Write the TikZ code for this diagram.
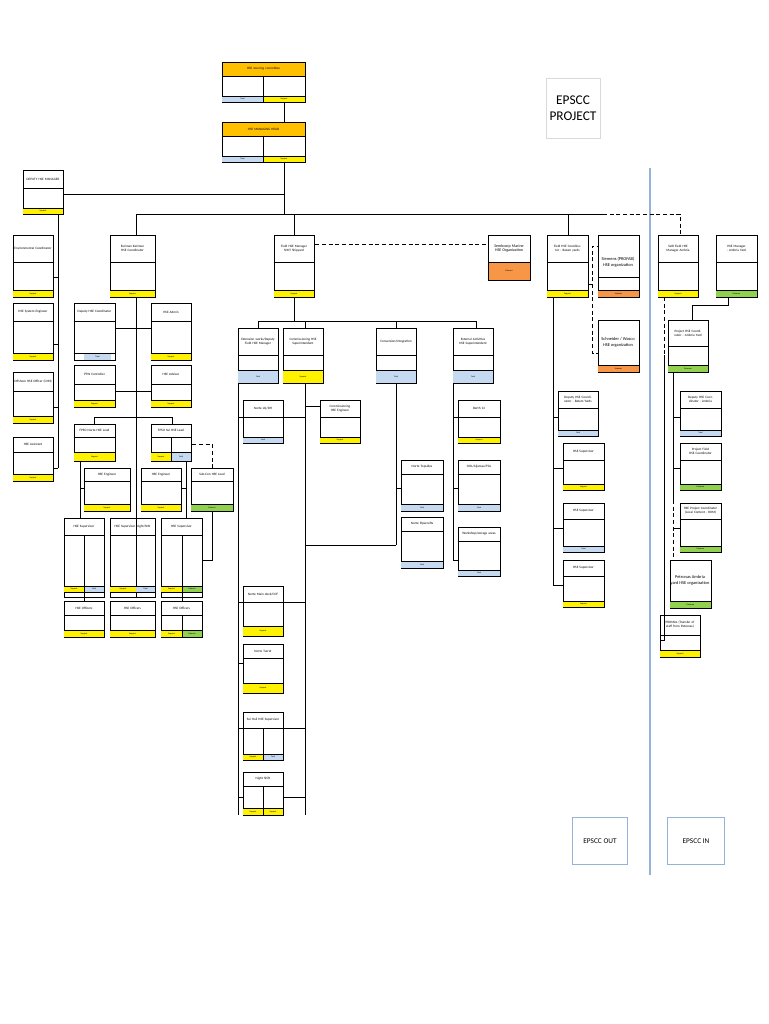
\documentclass[tikz,border=0pt]{standalone}
\usepackage{fontspec}
\setmainfont{Carlito}
\definecolor{hy}{RGB}{255,242,0}
\definecolor{hb}{RGB}{197,217,241}
\definecolor{hg}{RGB}{146,208,80}
\definecolor{ho}{RGB}{247,150,70}
\definecolor{hh}{RGB}{255,192,0}
\definecolor{lb}{RGB}{149,179,215}
\tikzset{x=0.75pt,y=-0.75pt,
 box/.style={draw,line width=0.9pt,inner sep=0pt},
 ttl/.style={font=\fontsize{2.5}{3}\selectfont,align=center,text width=#1,inner sep=0pt},
 ttl/.default=28pt,
 ftx/.style={font=\fontsize{1.6}{2}\selectfont,inner sep=0pt},
 big/.style={font=\fontsize{3.3}{4.6}\selectfont,align=center,inner sep=0pt},
 ln/.style={line width=0.7pt},
 dl/.style={line width=0.7pt,densely dashed}}
\newcommand\ob[7]{%
 \pgfmathsetmacro\bw{(#4-#2)*0.75}\pgfmathsetmacro\bh{(#5-#3)*0.75}%
 \node[box,minimum width=\bw pt,minimum height=\bh pt,anchor=north west] (#1) at (#2,#3) {};
 \draw[ln] (#2,#6) -- (#4,#6);
 \pgfmathsetmacro\tw{(#4-#2)*0.75-2}%
 \node[ttl=\tw pt] (#1t) at ({(#2+#4)/2},{(#3+#6)/2}) {#7};}
\newcommand\ft[6]{\fill[#5] (#1,#3) rectangle (#2,#4);
 \draw[ln] (#1,#3) -- (#2,#3);
 \node[ftx] at ({(#1+#2)/2},{(#3+#4)/2}) {#6};}
\newcommand\vd[3]{\draw[ln] (#1,#2) -- (#1,#3);}
\begin{document}
\begin{tikzpicture}
\useasboundingbox (0,0) rectangle (768,1024);
\fill[white] (0,0) rectangle (768,1024);
\node[draw=black!15,minimum width=40.5pt,minimum height=45pt,font=\fontsize{10}{12}\selectfont,align=center,inner sep=0] (proj) at (573,108) {EPSCC\\PROJECT};
\node[draw=lb,line width=0.5pt,minimum width=41pt,minimum height=35pt,font=\fontsize{5.5}{6}\selectfont,inner sep=0] (out) at (600,841) {EPSCC OUT};
\node[draw=lb,line width=0.5pt,minimum width=43pt,minimum height=35pt,font=\fontsize{5.5}{6}\selectfont,inner sep=0] (in) at (696,841) {EPSCC IN};
\coordinate (bl1) at (650,168); \coordinate (bl2) at (650,875);
\draw[lb,line width=0.8pt] (bl1) -- (bl2);
\fill[hh] (222,62) rectangle (305,76); \fill[hh] (222,122) rectangle (305,136);
\ob{steer}{222}{62}{305}{102}{76}{HSE steering committee}
\ft{222}{263}{96}{102}{hb}{Total}\ft{263}{305}{96}{102}{hy}{Support}\vd{263}{76}{102}
\ob{head}{222}{122}{305}{162}{136}{HSE MANAGING HEAD}
\ft{222}{263}{156}{162}{hb}{Total}\ft{263}{305}{156}{162}{hy}{Support}\vd{263}{136}{162}
\coordinate (hj) at (284,194); \coordinate (bus) at (284,214);
\draw[ln] (steer.south -| 284,0) -- (head.north -| 284,0);
\draw[ln] (head.south -| 284,0) -- (bus);
\ob{dep}{23}{170}{63}{214}{188}{DEPUTY HSE MANAGER}\ft{23}{63}{208}{214}{hy}{Support}
\draw[ln] (dep.east |- hj) -- (hj);
\draw[ln] (136,214) -- (603,214); \draw[dl] (603,214) -- (680,214) -- (680,235);
\draw[ln] (58,214) -- (58,468);
\ob{env}{13}{235}{53}{297}{262}{Environmental Coordinator}\ft{13}{53}{290}{297}{hy}{Support}
\ob{sys}{13}{303}{53}{360}{321}{HSE System Engineer}\ft{13}{53}{353}{360}{hy}{Support}
\ob{oim}{13}{372}{53}{423}{391}{Offshore HSE Officer (OIM)}\ft{13}{53}{416}{423}{hy}{Support}
\ob{asst}{13}{437}{53}{481}{452}{HSE Assistant}\ft{13}{53}{474}{481}{hy}{Support}
\draw[ln] (53,277)--(58,277) (53,344)--(58,344) (53,407)--(58,407) (53,468)--(58,468);
\draw[ln] (136,214) -- (136,235);
\ob{eur}{110}{235}{155}{297}{262}{Eurimax Karimun HSE Coordinator}\ft{110}{155}{290}{297}{hy}{Support}
\draw[ln] (136,297) -- (136,597);
\ob{dhc}{74}{303}{115}{360}{321}{Deputy HSE Coordinator}\ft{84}{111}{353}{360}{hb}{Total}
\draw[ln] (74,353)--(115,353);
\ob{adm}{151}{303}{191}{360}{321}{HSE Admin}\ft{151}{191}{353}{360}{hy}{Support}
\draw[ln] (115,328)--(151,328);
\ob{ptw}{74}{365}{115}{407}{384}{PTW Controller}\ft{74}{115}{400}{407}{hy}{Support}
\ob{adv}{151}{365}{191}{407}{384}{HSE Advisor}\ft{151}{191}{400}{407}{hy}{Support}
\draw[ln] (115,391)--(151,391);
\draw[ln] (94,424)--(94,417)--(172,417)--(172,424);
\ob{fn}{74}{424}{115}{461}{437}{FPSO Norte HSE Lead}\ft{74}{115}{452}{461}{hy}{Support}
\ob{fs}{151}{424}{191}{461}{437}{FPSO Sul HSE Lead}\ft{151}{171}{452}{461}{hy}{Support}\ft{171}{191}{452}{461}{hb}{Total}\vd{171}{437}{461}
\draw[dl] (fs.east |- 0,444) -- (212,444) -- (212,468);
\ob{he1}{84}{468}{130}{511}{481}{HSE Engineer}\ft{84}{130}{504}{511}{hy}{Support}
\ob{he2}{141}{468}{181}{511}{481}{HSE Engineer}\ft{141}{181}{504}{511}{hy}{Support}
\ob{sub}{191}{468}{233}{511}{481}{Sub-Con HSE Lead}\ft{191}{233}{504}{511}{hg}{Subcont}
\draw[ln] (80,461)--(80,518) (80,488)--(84,488);
\draw[ln] (186,461)--(186,518) (181,488)--(186,488);
\draw[ln] (212,511)--(212,560)--(202,560);
\ob{s1}{64}{518}{104}{597}{535}{HSE Supervisor}\ft{64}{84}{586}{592}{hy}{Support}\ft{84}{104}{586}{592}{hb}{Total}\vd{84}{535}{601}\draw[ln](64,592)--(104,592);
\ob{s2}{110}{518}{155}{597}{535}{HSE Supervisor Night/SMI}\ft{110}{136}{586}{592}{hy}{Support}\ft{136}{155}{586}{592}{hb}{Total}\draw[ln](110,592)--(155,592);
\ob{s3}{161}{518}{202}{597}{535}{HSE Supervisor}\ft{161}{182}{586}{592}{hy}{Support}\ft{182}{202}{586}{592}{hg}{Subcont}\vd{182}{535}{601}\draw[ln](161,592)--(202,592);
\ob{o1}{64}{601}{104}{637}{615}{HSE Officers}\ft{64}{104}{630}{637}{hy}{Support}
\ob{o2}{110}{601}{155}{637}{615}{HSE Officers}\ft{110}{155}{630}{637}{hy}{Support}
\ob{o3}{161}{601}{202}{637}{615}{HSE Officers}\ft{161}{182}{630}{637}{hy}{Support}\ft{182}{202}{630}{637}{hg}{Subcont}\vd{182}{615}{637}
\draw[ln] (294,214) -- (294,235);
\ob{fhm}{274}{235}{314}{297}{262}{Field HSE Manager\\SMIT Shipyard}\ft{274}{314}{290}{297}{hy}{Support}
\fill[ho] (488,262) rectangle (530,280);
\ob{semb}{488}{235}{530}{280}{262}{\fontsize{3}{4}\selectfont Sembcorp Marine HSE Organization}
\node[ftx] at (509,271) {Subcont};
\draw[dl] (fhm.east |- 0,244) -- (semb.west |- 0,244);
\draw[ln] (294,297) -- (294,321); \draw[ln] (258,328)--(258,321)--(476,321)--(476,328) (305,321)--(305,328) (396,321)--(396,328);
\ob{ext}{238}{328}{278}{383}{355}{Extension works/Deputy Field HSE Manager}\ft{238}{278}{370}{383}{hb}{Total}
\ob{com}{283}{328}{323}{383}{355}{Commissioning HSE Superintendent}\ft{283}{323}{370}{383}{hy}{Support}
\ob{conv}{376}{328}{416}{383}{355}{Conversion/Integration}\ft{376}{416}{370}{383}{hb}{Total}
\ob{exa}{453}{328}{493}{383}{355}{External Activities HSE Superintendent}\ft{453}{493}{370}{383}{hb}{Total}
\draw[ln] (238,383)--(238,815) (305,383)--(305,815);
\ob{nlq}{243}{400}{283}{443}{417}{Norte LQ/DH}\ft{243}{283}{437}{443}{hb}{Total}
\draw[ln] (238,417)--(305,417);
\ob{che}{320}{400}{360}{443}{417}{Commissioning HSE Engineer}\ft{320}{360}{437}{443}{hy}{Support}
\draw[ln] (305,406)--(320,406);
\draw[ln] (396,383)--(396,545) (305,545)--(396,545);
\ob{nts}{401}{460}{443}{511}{474}{Norte Topsides}\ft{401}{443}{504}{511}{hb}{Total}
\ob{npc}{401}{517}{443}{568}{531}{Norte Pipecrafts}\ft{401}{443}{561}{568}{hb}{Total}
\draw[ln] (396,488)--(401,488);
\draw[ln] (453,383)--(453,560);
\ob{b12}{458}{400}{500}{443}{417}{Berth 12}\ft{458}{500}{437}{443}{hy}{Support}
\ob{ool}{458}{460}{500}{511}{474}{OOL/Aljamaa/TSA}\ft{458}{500}{504}{511}{hb}{Total}
\ob{wks}{458}{527}{500}{576}{541}{Workshop/storage areas}\ft{458}{500}{570}{576}{hb}{Total}
\draw[ln] (453,417)--(458,417) (453,488)--(458,488) (453,560)--(458,560);
\ob{nmd}{243}{586}{283}{636}{602}{Norte Main deck/COF}\ft{243}{283}{626}{636}{hy}{Support}
\draw[ln] (238,602)--(305,602) (238,663)--(243,663);
\ob{ntu}{243}{644}{283}{693}{658}{Norte Turret}\ft{243}{283}{683}{693}{hy}{Support}
\ob{shs}{243}{712}{283}{760}{728}{Sul Hull HSE Supervisor}\ft{243}{263}{754}{760}{hy}{Support}\ft{263}{283}{754}{760}{hb}{Total}\vd{263}{728}{760}
\draw[ln] (238,728)--(305,728);
\ob{nsh}{243}{772}{283}{815}{786}{Night Shift}\ft{243}{263}{808}{815}{hy}{Support}\ft{263}{283}{808}{815}{hy}{Support}\vd{263}{786}{815}
\draw[ln] (238,797)--(243,797) (283,797)--(305,797);
\draw[ln] (568,214) -- (568,235);
\ob{fcb}{547}{235}{588}{297}{262}{Field HSE Coordinator - Batam yards}\ft{547}{588}{290}{297}{hy}{Support}
\ob{sie}{598}{235}{639}{297}{277}{}
\node[big] at (618,262) {Siemens (PROFAB)\\HSE organization};
\ft{598}{639}{290}{297}{ho}{Subcont}
\ob{sch}{598}{320}{639}{372}{365}{}
\node[big] at (618,342) {Schneider / Wasco\\HSE organization};
\ft{598}{639}{365}{372}{ho}{Subcont}
\draw[dl] (588,284)--(592,284)--(592,246)--(598,246) (592,284)--(592,353)--(598,353);
\draw[ln] (553,297)--(553,585);
\ob{dhb}{558}{391}{598}{436}{408}{Deputy HSE Coordinator - Batam Yards}\ft{558}{598}{430}{436}{hb}{Total}
\ob{bs1}{563}{443}{604}{490}{460}{HSE Supervisor}\ft{563}{604}{484}{490}{hy}{Support}
\ob{bs2}{563}{503}{604}{552}{519}{HSE Supervisor}\ft{563}{604}{546}{552}{hb}{Total}
\ob{bs3}{563}{560}{604}{607}{576}{HSE Supervisor}\ft{563}{604}{601}{607}{hy}{Support}
\draw[ln] (553,417)--(558,417) (553,468)--(563,468) (553,528)--(563,528) (553,585)--(563,585);
\ob{slir}{658}{235}{698}{297}{262}{SLIR Field HSE Manager Ambria}\ft{658}{698}{290}{297}{hy}{Support}
\ob{hma}{716}{235}{757}{297}{262}{HSE Manager - Ambria Yard}\ft{716}{757}{290}{297}{hg}{Petronas}
\draw[dl] (664,297)--(664,355); \draw[ln] (664,355)--(664,640)--(660,640);
\draw[ln] (728,297)--(728,305)--(692,305)--(692,320);
\ob{pca}{668}{320}{708}{372}{346}{Project HSE Coordinator - Ambria Yard}\ft{668}{708}{365}{372}{hg}{Petronas}
\draw[ln] (673,372)--(673,500);
\ob{dha}{680}{391}{721}{436}{408}{Deputy HSE Coordinator - Ambria}\ft{680}{721}{430}{436}{hb}{Total}
\ob{pfc}{680}{443}{721}{490}{460}{Project Field HSE Coordinator}\ft{680}{721}{484}{490}{hg}{Petronas}
\ob{rom}{680}{503}{721}{552}{519}{HSE Project Coordinator (Local Content - ROM)}\ft{680}{721}{546}{552}{hg}{Petronas}
\draw[ln] (673,417)--(680,417) (673,468)--(680,468) (673,528)--(680,528);
\draw[dl] (673,500)--(673,560);
\ob{pet}{670}{560}{711}{608}{601}{}
\node[big] at (690,580) {Petronas Ambria\\yard HSE organization};
\ft{670}{711}{601}{608}{hg}{Petronas}
\ob{prm}{660}{615}{700}{657}{635}{PROMAL (Transfer of staff from Petronas)}\ft{660}{700}{650}{657}{hy}{Support}
\end{tikzpicture}
\end{document}
